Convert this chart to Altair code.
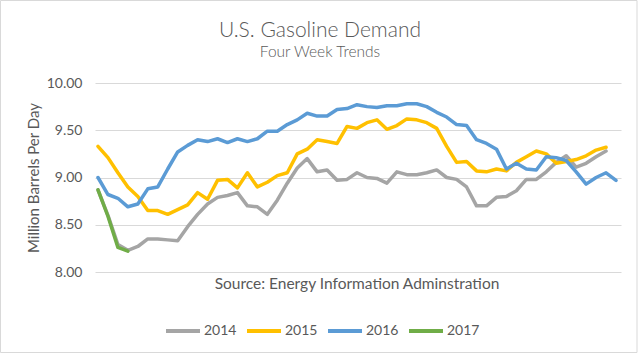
import altair as alt
import pandas as pd

series_names = ["2014", "2015", "2016", "2017"]
series_colors = ["#A5A5A5", "#FFC000", "#5B9BD5", "#70AD47"]

y2014 = [8.87, 8.60, 8.29, 8.23, 8.27, 8.35, 8.35, 8.34, 8.33, 8.48,
         8.61, 8.72, 8.79, 8.81, 8.84, 8.70, 8.69, 8.61, 8.76, 8.94,
         9.10, 9.20, 9.06, 9.08, 8.97, 8.98, 9.05, 9.00, 8.99, 8.94,
         9.06, 9.03, 9.03, 9.05, 9.08, 9.00, 8.98, 8.90, 8.70, 8.70,
         8.79, 8.80, 8.86, 8.98, 8.98, 9.06, 9.16, 9.23, 9.11, 9.15,
         9.22, 9.28]
y2015 = [9.33, 9.21, 9.05, 8.90, 8.80, 8.65, 8.65, 8.61, 8.66, 8.71,
         8.84, 8.77, 8.97, 8.98, 8.89, 9.05, 8.90, 8.95, 9.02, 9.05,
         9.25, 9.30, 9.40, 9.38, 9.36, 9.54, 9.52, 9.58, 9.61, 9.51,
         9.55, 9.62, 9.61, 9.58, 9.52, 9.33, 9.16, 9.17, 9.07, 9.06,
         9.09, 9.07, 9.16, 9.22, 9.28, 9.25, 9.15, 9.17, 9.19, 9.23,
         9.29, 9.32]
y2016 = [9.00, 8.82, 8.78, 8.69, 8.72, 8.88, 8.90, 9.09, 9.27, 9.34,
         9.40, 9.38, 9.41, 9.37, 9.41, 9.38, 9.41, 9.49, 9.49, 9.56,
         9.61, 9.68, 9.65, 9.65, 9.72, 9.73, 9.77, 9.75, 9.74, 9.76,
         9.76, 9.78, 9.78, 9.75, 9.69, 9.64, 9.56, 9.55, 9.40, 9.36,
         9.30, 9.09, 9.15, 9.09, 9.08, 9.22, 9.21, 9.18, 9.06, 8.93,
         9.00, 9.05, 8.97]
y2017 = [8.87, 8.59, 8.26, 8.22]

y_ticks = [8.0, 8.5, 9.0, 9.5, 10.0]

title_text = "U.S. Gasoline Demand"
subtitle_text = "Four Week Trends"
source_text = "Source: Energy Information Adminstration"

rows = []
for name, vals in zip(series_names, [y2014, y2015, y2016, y2017]):
    for i, v in enumerate(vals):
        rows.append({"week": i + 1, "series": name, "value": v, "order": series_names.index(name)})
df = pd.DataFrame(rows)

W, H = 526, 189
FONT = "Lato"
TXT = "#595959"

lines = alt.Chart(df).mark_line(strokeWidth=3.5, strokeJoin="round", strokeCap="round").encode(
    x=alt.X("week:Q", scale=alt.Scale(domain=[0.7, 53.5], nice=False, zero=False), axis=None),
    y=alt.Y("value:Q", scale=alt.Scale(domain=[8, 10], nice=False, zero=False),
            axis=alt.Axis(values=y_ticks, format=".2f", title="Million Barrels Per Day",
                          grid=True, gridColor="#D9D9D9", domain=False, ticks=False,
                          labelPadding=13, labelFont=FONT, labelFontSize=14, labelColor=TXT,
                          titleFont=FONT, titleFontSize=15, titleColor=TXT, titleFontWeight="normal",
                          titleX=-62, titleY=H / 2, titleAngle=270, titleAlign="center",
                          titleBaseline="middle")),
    color=alt.Color("series:N", scale=alt.Scale(domain=series_names, range=series_colors),
                    legend=alt.Legend(title=None, orient="none", direction="horizontal",
                                      legendX=69, legendY=229, symbolType="stroke",
                                      symbolStrokeWidth=4, symbolSize=1156,
                                      labelFont=FONT, labelFontSize=14, labelColor=TXT,
                                      labelOffset=2, columnPadding=2)),
    order=alt.Order("order:Q"),
    detail="series:N",
)

src = alt.Chart(pd.DataFrame({"t": [source_text]})).mark_text(
    font=FONT, fontSize=15.5, color=TXT, align="center", baseline="middle"
).encode(text="t:N", x=alt.value(W / 2 - 1), y=alt.value(201))

ttl = alt.Chart(pd.DataFrame({"t": [title_text]})).mark_text(
    font=FONT, fontSize=21, fontWeight=300, color=TXT, align="center", baseline="middle"
).encode(text="t:N", x=alt.value(225), y=alt.value(-52))

sub = alt.Chart(pd.DataFrame({"t": [subtitle_text]})).mark_text(
    font=FONT, fontSize=15.5, fontWeight=300, color=TXT, align="center", baseline="middle"
).encode(text="t:N", x=alt.value(225), y=alt.value(-31))

border = alt.Chart(pd.DataFrame({"a": [0]})).mark_rect(fill=None, stroke="#D9D9D9", strokeWidth=1).encode(
    x=alt.value(-94.5), x2=alt.value(542), y=alt.value(-82.5), y2=alt.value(269.5)
)

chart = alt.layer(border, lines, src, ttl, sub).properties(
    width=W, height=H,
    autosize=alt.AutoSizeParams(type="none"),
    padding={"left": 95, "top": 83, "right": 19, "bottom": 82},
    background="white",
).configure_view(stroke=None)

chart.save("out.html", embed_options={"renderer": "svg", "actions": False})
